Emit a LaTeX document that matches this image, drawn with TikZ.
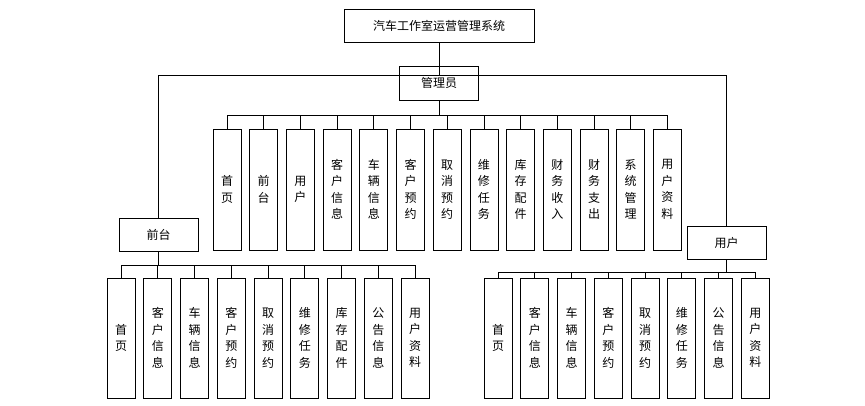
\documentclass[tikz,border=0pt]{standalone}
\usepackage{fontspec}
\setmainfont{Noto Sans CJK SC}
\begin{document}
\begin{tikzpicture}[x=1pt,y=-1pt,
  box/.style={draw,line width=0.8pt,inner sep=0pt,font=\fontsize{12}{16.5}\selectfont},
  leaf/.style={box,minimum width=28pt,minimum height=121pt,align=center},
  ln/.style={line width=0.8pt}]
\useasboundingbox (0,0) rectangle (865,405);
\node[box,minimum width=190pt,minimum height=33pt] (top) at (439,25.5) {汽车工作室运营管理系统};
\node[box,minimum width=79pt,minimum height=34pt] (adm) at (439,83) {管理员};
\node[box,minimum width=79pt,minimum height=33pt] (qt) at (158.5,234.5) {前台};
\node[box,minimum width=79pt,minimum height=33pt] (yh) at (726.5,242.5) {用户};
\draw[ln] (top.south) -- (adm.north);
\draw[ln] (top.south) -- ++(0,33) -| (qt.north);
\draw[ln] (top.south) -- ++(0,33) -| (yh.north);
\foreach \i/\t in {0/首\\页,1/前\\台,2/用\\户,3/客\\户\\信\\息,4/车\\辆\\信\\息,5/客\\户\\预\\约,6/取\\消\\预\\约,7/维\\修\\任\\务,8/库\\存\\配\\件,9/财\\务\\收\\入,10/财\\务\\支\\出,11/系\\统\\管\\理,12/用\\户\\资\\料}{
  \node[leaf] (a\i) at ({227+36.7*\i},189.5) {\t};
  \draw[ln] (adm.south) -- ++(0,15) -| (a\i.north);
}
\foreach \i/\t in {0/首\\页,1/客\\户\\信\\息,2/车\\辆\\信\\息,3/客\\户\\预\\约,4/取\\消\\预\\约,5/维\\修\\任\\务,6/库\\存\\配\\件,7/公\\告\\信\\息,8/用\\户\\资\\料}{
  \node[leaf,minimum height=120pt] (q\i) at ({121+36.75*\i},338) {\t};
  \draw[ln] (qt.south) -- ++(0,14) -| (q\i.north);
}
\foreach \i/\t in {0/首\\页,1/客\\户\\信\\息,2/车\\辆\\信\\息,3/客\\户\\预\\约,4/取\\消\\预\\约,5/维\\修\\任\\务,6/公\\告\\信\\息,7/用\\户\\资\\料}{
  \node[leaf,minimum height=120pt] (u\i) at ({498+36.75*\i},338) {\t};
  \draw[ln] (yh.south) -- ++(0,13) -| (u\i.north);
}
\end{tikzpicture}
\end{document}
